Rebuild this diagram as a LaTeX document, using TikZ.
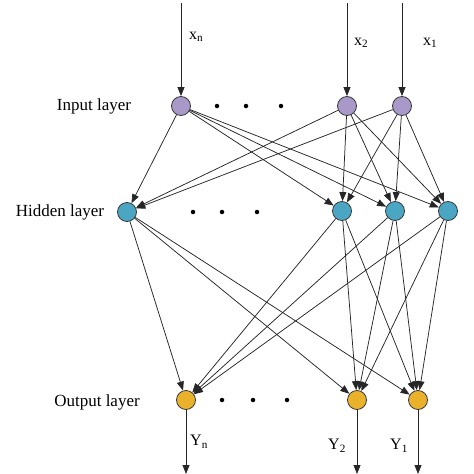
\documentclass[tikz,border=0pt]{standalone}
\usepackage{fontspec}
\setmainfont{Liberation Serif}
\usetikzlibrary{arrows.meta}
\definecolor{inpc}{HTML}{A899C8}
\definecolor{hidc}{HTML}{4BA6C4}
\definecolor{outc}{HTML}{EAB22A}
\definecolor{rimc}{HTML}{3A3A3A}
\begin{document}
\begin{tikzpicture}[x=1pt,y=-1pt,
  neuron/.style={circle,draw=rimc,line width=0.8pt,minimum size=19pt,inner sep=0pt},
  inn/.style={neuron,fill=inpc},
  hid/.style={neuron,fill=hidc},
  outn/.style={neuron,fill=outc},
  conn/.style={draw=black!85,line width=0.75pt,-{Triangle[length=9pt,width=7pt]}},
  lay/.style={font=\fontsize{17}{20}\selectfont,inner sep=0pt},
  lab/.style={font=\fontsize{16}{18}\selectfont,inner sep=0pt,anchor=west},
  dot/.style={circle,fill=black,inner sep=0pt,minimum size=4.5pt}]
\useasboundingbox (0,0) rectangle (474,474);
% nodes
\node[inn] (i1) at (181,106) {};
\node[inn] (i2) at (347,106) {};
\node[inn] (i3) at (402,106) {};
\node[hid] (h1) at (127,212) {};
\node[hid] (h2) at (342,211) {};
\node[hid] (h3) at (395,211) {};
\node[hid] (h4) at (448,211) {};
\node[outn] (o1) at (186,400) {};
\node[outn] (o2) at (357,400) {};
\node[outn] (o3) at (418,400) {};
% dots
\node[dot] (d1) at (217,106) {}; \node[dot] (d2) at (246,106) {}; \node[dot] (d3) at (281,106) {};
\node[dot] (d4) at (193,212) {}; \node[dot] (d5) at (222,212) {}; \node[dot] (d6) at (257,212) {};
\node[dot] (d7) at (222,400) {}; \node[dot] (d8) at (253,400) {}; \node[dot] (d9) at (287,400) {};
% layer labels
\node[lay] (l1) at (94,106) {Input layer};
\node[lay] (l2) at (60,212) {Hidden layer};
\node[lay] (l3) at (97,402) {Output layer};
% input arrows
\coordinate (t1) at (181,3);
\coordinate (t2) at (347,3);
\coordinate (t3) at (402,3);
\draw[conn] (t1) -- (i1);
\draw[conn] (t2) -- (i2);
\draw[conn] (t3) -- (i3);
\node[lab] (xn) at (189,37) {x\textsubscript{n}};
\node[lab] (x2) at (354,43) {x\textsubscript{2}};
\node[lab] (x1) at (423,43) {x\textsubscript{1}};
% input -> hidden
\foreach \a in {i1,i2,i3}{
  \foreach \b in {h1,h2,h3,h4}{
    \draw[conn] (\a) -- (\b);
  }
}
% hidden -> output
\foreach \a in {h1,h2,h3,h4}{
  \foreach \b in {o1,o2,o3}{
    \draw[conn] (\a) -- (\b);
  }
}
% output arrows
\coordinate (b1) at (186,474);
\coordinate (b2) at (357,474);
\coordinate (b3) at (418,474);
\draw[conn] (o1) -- (b1);
\draw[conn] (o2) -- (b2);
\draw[conn] (o3) -- (b3);
\node[lab] (yn) at (190,442) {Y\textsubscript{n}};
\node[lab] (y2) at (328,446) {Y\textsubscript{2}};
\node[lab] (y1) at (390,446) {Y\textsubscript{1}};
\end{tikzpicture}
\end{document}
